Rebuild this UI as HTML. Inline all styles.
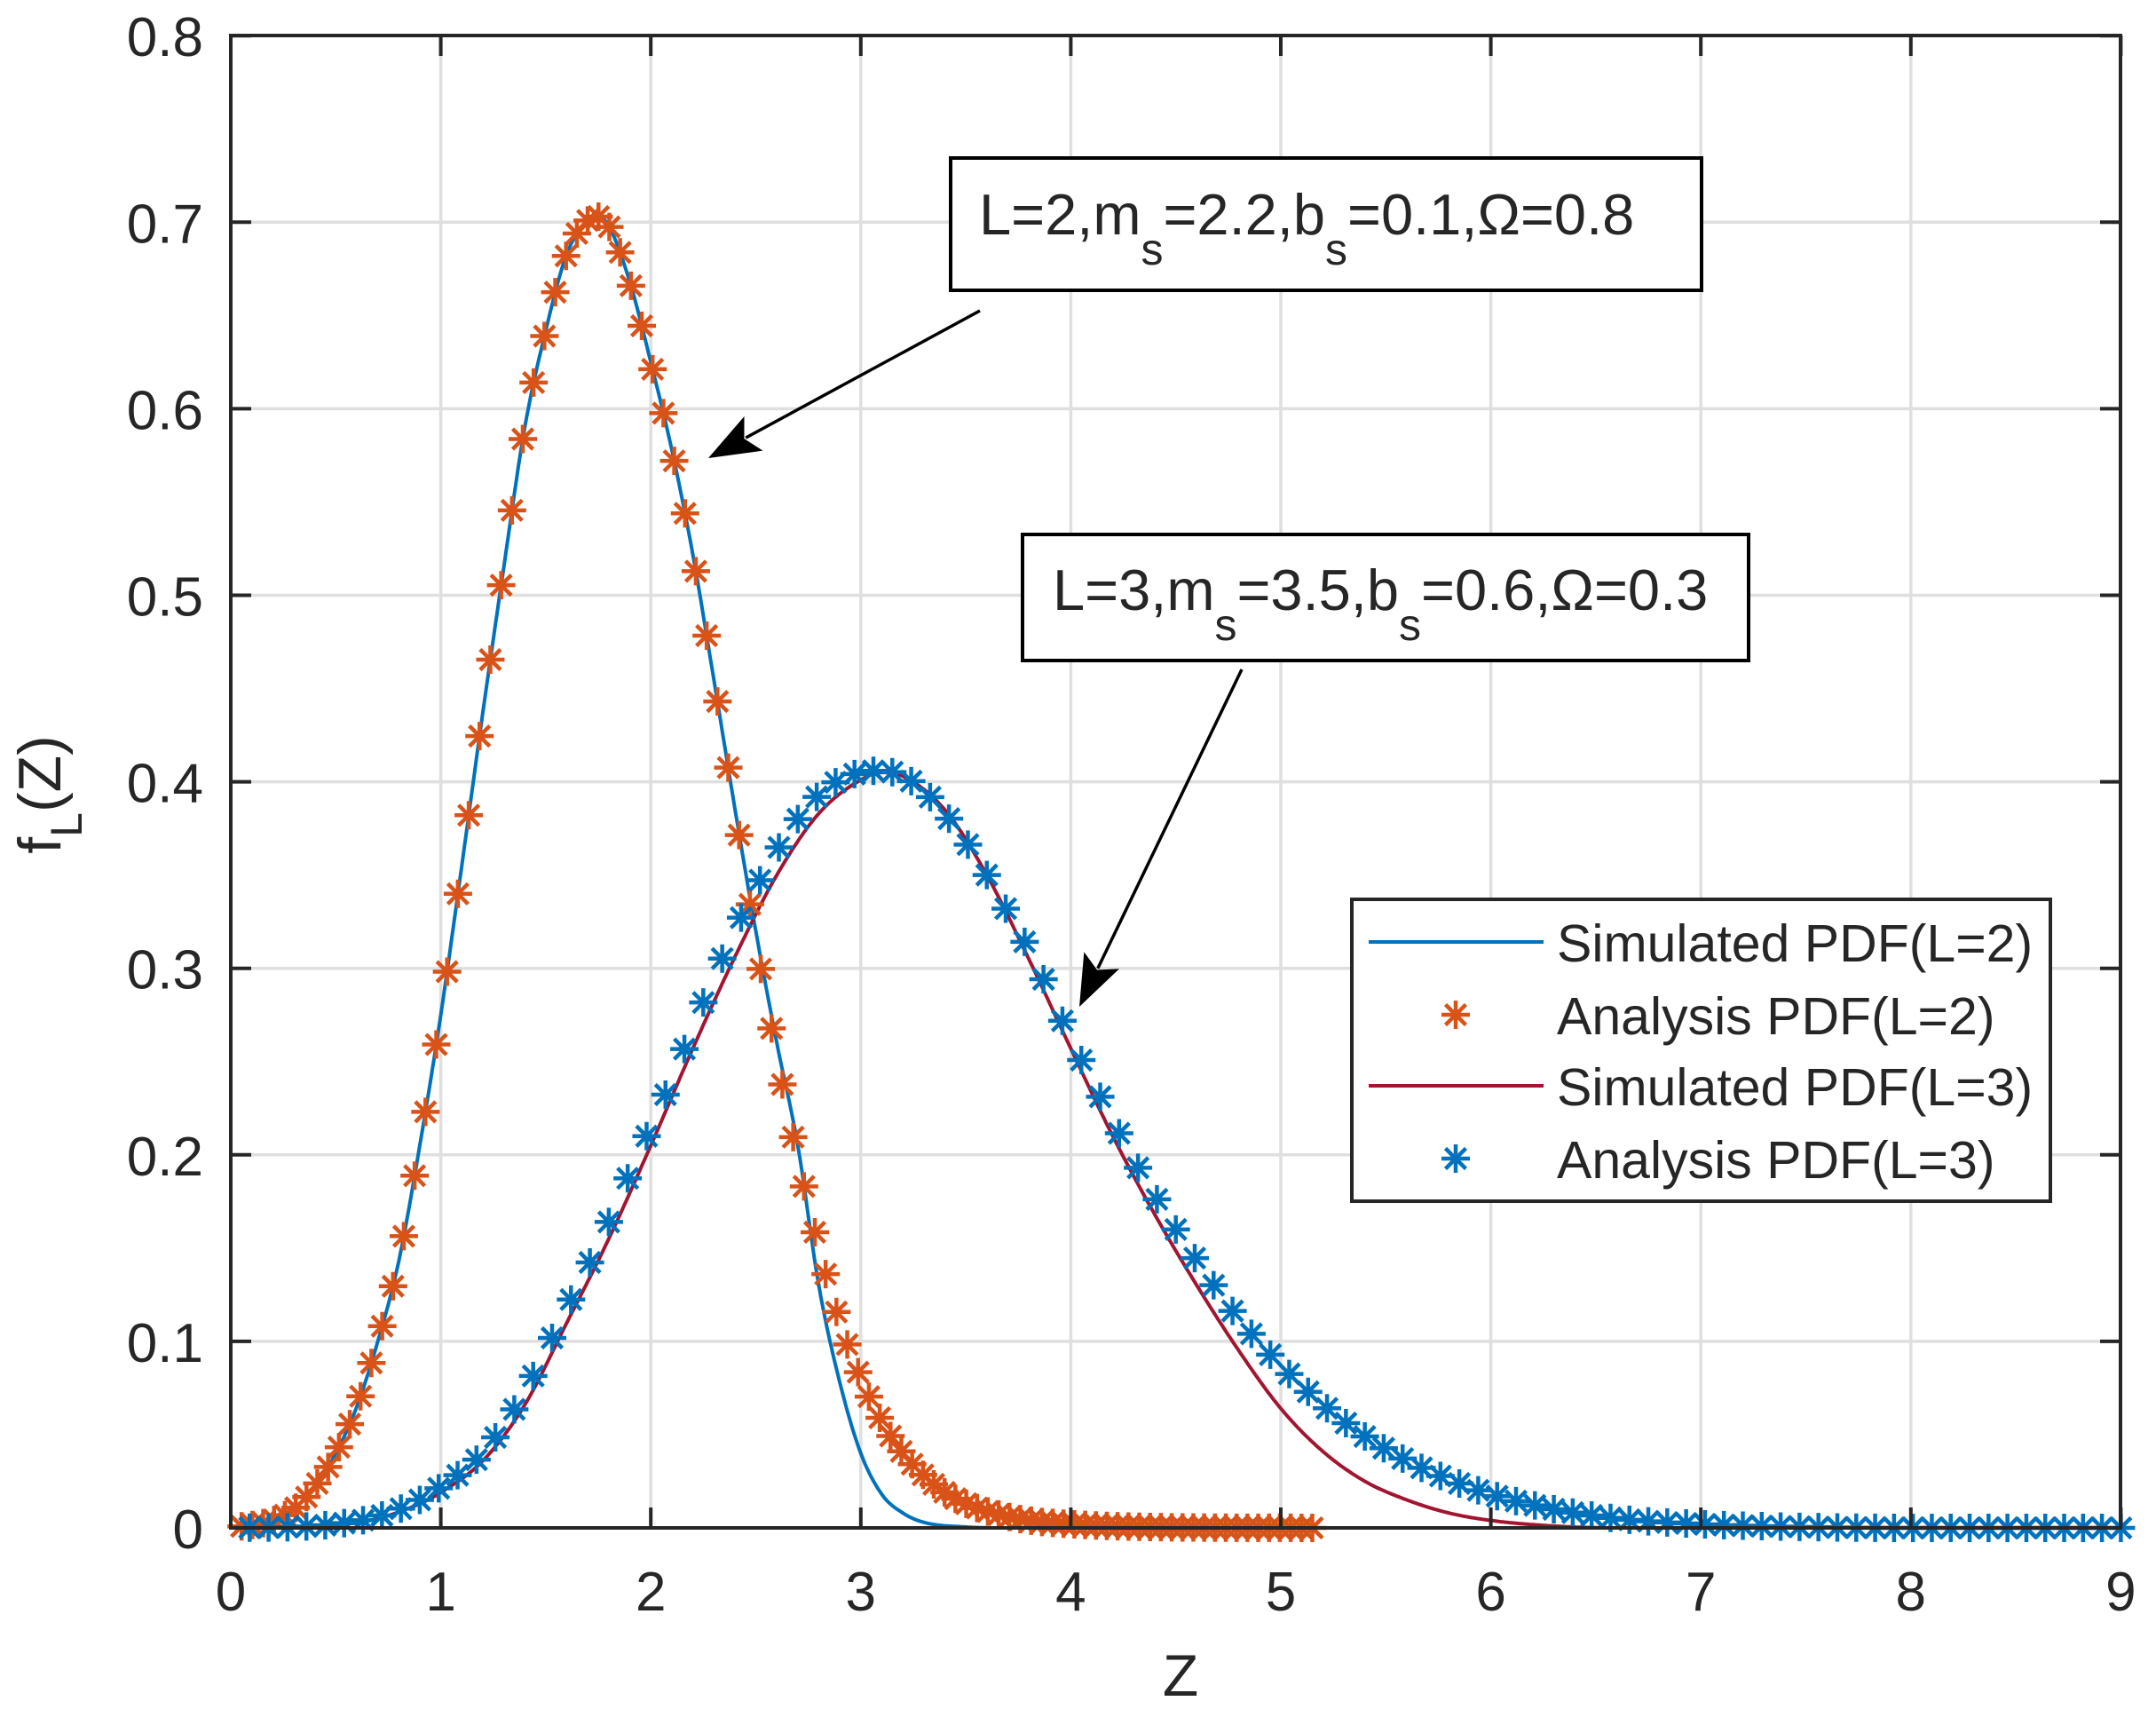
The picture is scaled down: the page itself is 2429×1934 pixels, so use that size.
<!DOCTYPE html>
<html><head><meta charset="utf-8"><style>
html,body{margin:0;padding:0;background:#fff;}
svg{display:block;}
text{font-family:"Liberation Sans",Arial,sans-serif;fill:#262626;}
</style></head><body>
<svg id="s" width="2429" height="1934" viewBox="0 0 2429 1934" xmlns="http://www.w3.org/2000/svg">
<rect width="2429" height="1934" fill="#fff"/>
<g id="grid" stroke="#dfdfdf" stroke-width="3.5"></g>
<g id="curves"></g>
<g id="axes"></g>
<g font-size="62" text-anchor="end" id="yt"></g>
<g font-size="62" text-anchor="middle" id="xt"></g>
<text x="1330" y="1910" font-size="66" text-anchor="middle">Z</text>
<text transform="translate(68,895) rotate(-90)" font-size="68" text-anchor="middle">f<tspan font-size="50" dy="24">L</tspan><tspan dy="-24">(Z)</tspan></text>
<!-- annotation boxes -->
<rect x="1071" y="178" width="846" height="149" fill="#fff" stroke="#000" stroke-width="4"/>
<text x="1103" y="264" font-size="65" fill="#000">L=2,m<tspan font-size="50" dy="34">s</tspan><tspan dy="-34">=2.2,b</tspan><tspan font-size="50" dy="34">s</tspan><tspan dy="-34">=0.1,Ω=0.8</tspan></text>
<rect x="1152" y="602" width="818" height="142" fill="#fff" stroke="#000" stroke-width="4"/>
<text x="1186" y="687" font-size="65" fill="#000">L=3,m<tspan font-size="50" dy="34">s</tspan><tspan dy="-34">=3.5,b</tspan><tspan font-size="50" dy="34">s</tspan><tspan dy="-34">=0.6,Ω=0.3</tspan></text>
<g id="arrows"></g>
<!-- legend -->
<rect x="1523" y="1013" width="787" height="340" fill="#fff" stroke="#262626" stroke-width="4"/>
<line x1="1542" y1="1061" x2="1739" y2="1061" stroke="#0072BD" stroke-width="4"/>
<line x1="1542" y1="1223" x2="1739" y2="1223" stroke="#A2142F" stroke-width="4"/>
<g id="legm"></g>
<g font-size="59" fill="#000">
<text x="1754" y="1083" fill="#000">Simulated PDF(L=2)</text>
<text x="1754" y="1165" fill="#000">Analysis PDF(L=2)</text>
<text x="1754" y="1245" fill="#000">Simulated PDF(L=3)</text>
<text x="1754" y="1327" fill="#000">Analysis PDF(L=3)</text>
</g>
</svg>
<script>
(function(){
var NS="http://www.w3.org/2000/svg";
var X0=260,XS=236.6,Y0=1721,YS=2101,TOP=40,RIGHT=2389;
function px(x){return X0+x*XS;} function py(y){return Y0-y*YS;}
function el(p,tag,a){var e=document.createElementNS(NS,tag);for(var k in a)e.setAttribute(k,a[k]);p.appendChild(e);return e;}
var g=document.getElementById('grid'),ax=document.getElementById('axes');
var yt=document.getElementById('yt'),xt=document.getElementById('xt');
for(var i=1;i<9;i++){el(g,'line',{x1:px(i),y1:TOP,x2:px(i),y2:Y0});}
for(var j=1;j<8;j++){el(g,'line',{x1:X0,y1:py(j/10),x2:RIGHT,y2:py(j/10)});}
el(ax,'rect',{x:X0,y:TOP,width:RIGHT-X0,height:Y0-TOP,fill:'none',stroke:'#262626','stroke-width':4});
for(i=0;i<=9;i++){var x=px(i);
 el(ax,'line',{x1:x,y1:Y0,x2:x,y2:Y0-23,stroke:'#262626','stroke-width':4});
 el(ax,'line',{x1:x,y1:TOP,x2:x,y2:TOP+23,stroke:'#262626','stroke-width':4});
 var t=el(xt,'text',{x:x,y:1814});t.textContent=String(i);}
for(j=0;j<=8;j++){var y=py(j/10);
 el(ax,'line',{x1:X0,y1:y,x2:X0+23,y2:y,stroke:'#262626','stroke-width':4});
 el(ax,'line',{x1:RIGHT,y1:y,x2:RIGHT-23,y2:y,stroke:'#262626','stroke-width':4});
 var t2=el(yt,'text',{x:229,y:y+23});t2.textContent=(j==0?'0':(j/10).toFixed(1));}
function interp(tab){var xs=tab.map(function(p){return p[0]}),ys=tab.map(function(p){return p[1]});
 var n=xs.length,d=[],m=[];for(var i=0;i<n-1;i++)d.push((ys[i+1]-ys[i])/(xs[i+1]-xs[i]));
 m[0]=d[0];m[n-1]=d[n-2];for(i=1;i<n-1;i++){m[i]=(d[i-1]*d[i]<=0)?0:(d[i-1]+d[i])/2;}
 for(i=0;i<n-1;i++){if(d[i]==0){m[i]=0;m[i+1]=0;continue;}var a=m[i]/d[i],b=m[i+1]/d[i],s=a*a+b*b;if(s>9){var tt=3/Math.sqrt(s);m[i]=tt*a*d[i];m[i+1]=tt*b*d[i];}}
 return function(x){if(x<=xs[0])return ys[0];if(x>=xs[n-1])return ys[n-1];var k=0;while(xs[k+1]<x)k++;
 var h=xs[k+1]-xs[k],t=(x-xs[k])/h,t2=t*t,t3=t2*t;
 return (2*t3-3*t2+1)*ys[k]+(t3-2*t2+t)*h*m[k]+(-2*t3+3*t2)*ys[k+1]+(t3-t2)*h*m[k+1];};}
var or=[[0,0],[0.2,0.004],[0.3,0.01],[0.4,0.022],[0.5,0.04],[0.6,0.065],[0.7,0.1],[0.8,0.143],[0.9,0.205],[1.0,0.275],[1.1,0.355],[1.2,0.437],[1.3,0.515],[1.4,0.59],[1.5,0.642],[1.6,0.683],[1.7,0.701],[1.75,0.703],[1.8,0.698],[1.9,0.668],[2.0,0.625],[2.1,0.578],[2.2,0.522],[2.3,0.455],[2.4,0.386],[2.5,0.315],[2.6,0.253],[2.7,0.198],[2.8,0.15],[2.9,0.11],[3.0,0.08],[3.1,0.057],[3.2,0.04],[3.3,0.028],[3.4,0.019],[3.5,0.013],[3.6,0.009],[3.7,0.006],[3.8,0.004],[4.0,0.002],[4.5,0.0003],[5.2,0]];
var bl2=or.filter(function(p){return p[0]<=2.4;}).concat([[2.5,0.32],[2.6,0.26],[2.7,0.205],[2.8,0.13],[2.9,0.078],[3.0,0.04],[3.1,0.018],[3.2,0.008],[3.3,0.003],[3.5,0.0005],[3.7,0],[5.2,0]]);
var b3=[[0,0],[0.3,0.0005],[0.5,0.002],[0.7,0.006],[0.9,0.015],[1.0,0.022],[1.1,0.03],[1.2,0.04],[1.3,0.055],[1.4,0.073],[1.5,0.095],[1.6,0.118],[1.7,0.14],[1.8,0.164],[1.9,0.19],[2.0,0.215],[2.1,0.24],[2.2,0.268],[2.3,0.295],[2.4,0.32],[2.5,0.343],[2.6,0.363],[2.7,0.38],[2.8,0.393],[2.9,0.401],[3.0,0.405],[3.1,0.406],[3.2,0.403],[3.3,0.395],[3.4,0.383],[3.5,0.368],[3.6,0.35],[3.7,0.33],[3.8,0.31],[3.9,0.287],[4.0,0.262],[4.1,0.24],[4.2,0.218],[4.3,0.197],[4.4,0.178],[4.5,0.16],[4.6,0.143],[4.7,0.127],[4.8,0.112],[4.9,0.099],[5.0,0.087],[5.2,0.066],[5.4,0.049],[5.6,0.036],[5.8,0.026],[6.0,0.018],[6.3,0.01],[6.6,0.005],[7.0,0.002],[7.5,0.0005],[8,0],[9,0]];
var r3=[[0,0],[0.5,0.0015],[0.7,0.005],[0.9,0.013],[1.0,0.019],[1.2,0.036],[1.4,0.066],[1.6,0.11],[1.8,0.155],[2.0,0.205],[2.2,0.257],[2.4,0.306],[2.6,0.35],[2.8,0.383],[3.0,0.401],[3.1,0.405],[3.2,0.403],[3.4,0.385],[3.6,0.35],[3.8,0.305],[4.0,0.257],[4.2,0.21],[4.4,0.168],[4.6,0.13],[4.8,0.095],[5.0,0.064],[5.2,0.041],[5.4,0.025],[5.6,0.015],[5.8,0.008],[6.0,0.004],[6.3,0.001],[6.6,0],[9,0]];
var fo=interp(or),fb2=interp(bl2),fb3=interp(b3),fr3=interp(r3);
var cv=document.getElementById('curves');
function line(f,x1,x2,col){var d='';for(var x=x1;x<=x2+1e-9;x+=0.01){d+=(d?'L':'M')+px(x).toFixed(1)+','+py(Math.max(0,f(x))).toFixed(1);}
 el(cv,'path',{d:d,fill:'none',stroke:col,'stroke-width':4,'stroke-linejoin':'round'});}
function star(p,cx,cy,col){var r=16,q=11.5;
 el(p,'path',{d:'M'+(cx-r)+','+cy+'h'+(2*r)+'M'+cx+','+(cy-r)+'v'+(2*r)+'M'+(cx-q)+','+(cy-q)+'l'+(2*q)+','+(2*q)+'M'+(cx-q)+','+(cy+q)+'l'+(2*q)+','+(-2*q),stroke:col,'stroke-width':4.5,fill:'none'});}
line(fb2,0,5.2,'#0072BD');
line(fr3,0,9,'#A2142F');
var k;
for(k=1;k<=100;k++){var x=0.0515*k;star(cv,px(x),py(Math.max(0,fo(x))),'#D95319');}
for(k=1;k<=100;k++){var x=0.09*k;star(cv,px(x),py(Math.max(0,fb3(x))),'#0072BD');}
var lm=document.getElementById('legm');star(lm,1640,1143,'#D95319');star(lm,1640,1305,'#0072BD');
var ar=document.getElementById('arrows');
function arrow(x1,y1,x2,y2){var dx=x2-x1,dy=y2-y1,L=Math.sqrt(dx*dx+dy*dy),ux=dx/L,uy=dy/L,hl=58,hw=22;
 var bx=x2-ux*hl,by=y2-uy*hl;
 el(ar,'line',{x1:x1,y1:y1,x2:bx+ux*10,y2:by+uy*10,stroke:'#000','stroke-width':3.5});
 el(ar,'path',{d:'M'+x2+','+y2+'L'+(bx-uy*hw)+','+(by+ux*hw)+'L'+(bx+ux*12)+','+(by+uy*12)+'L'+(bx+uy*hw)+','+(by-ux*hw)+'Z',fill:'#000'});}
arrow(1104,350,798,516);
arrow(1399,754,1216,1134);
})();
</script>
</body></html>
